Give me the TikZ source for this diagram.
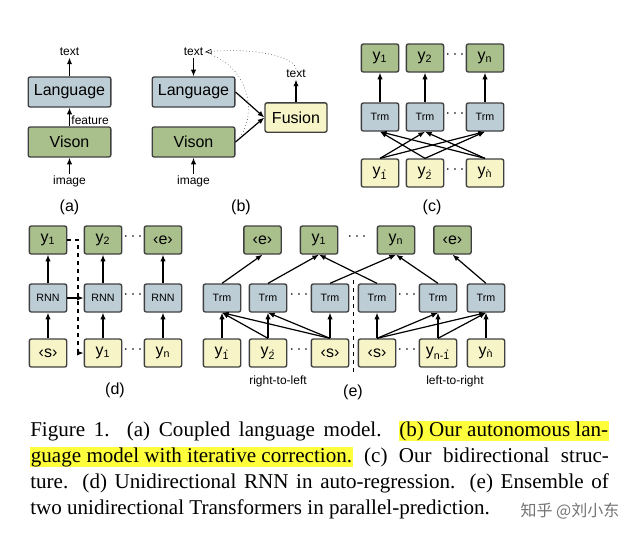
\documentclass[tikz,border=0pt]{standalone}
\usepackage{fontspec}
\setmainfont{Liberation Serif}
\newfontfamily\boxfont{Liberation Sans}
\newfontfamily\cjk{Noto Sans CJK SC}
\usetikzlibrary{arrows.meta}
\definecolor{vert}{RGB}{169,191,140}
\definecolor{gris}{RGB}{189,205,214}
\definecolor{jaune}{RGB}{247,245,200}
\definecolor{surligne}{RGB}{255,255,60}
\newcommand{\yp}[1]{y\textsubscript{#1\char"0300}}
\newcommand{\cro}[1]{\char"2039#1\char"203A}
\setlength{\fboxsep}{0.5pt}
\begin{document}
\begin{tikzpicture}[x=0.75pt,y=-0.75pt]

% définition des styles
\tikzstyle{boite}=[draw=black!75,line width=1pt,rounded corners=1.5pt,font=\boxfont,inner sep=0pt]
\tikzstyle{grand}=[boite,minimum width=62pt,minimum height=22.5pt,font=\boxfont\large]
\tikzstyle{petit}=[boite,minimum width=28pt,minimum height=21pt,font=\boxfont\large]
\tikzstyle{trm}=[petit,fill=gris,font=\boxfont\footnotesize]
\tikzstyle{fleche}=[-{Latex[length=5pt,width=4pt]},line width=0.9pt]
\tikzstyle{pointille}=[-{Latex[length=5pt,width=4pt,open]},dotted,thin]
\tikzstyle{etiq}=[font=\boxfont\small,inner sep=1pt]
\tikzstyle{points}=[font=\boxfont\bfseries\large]
\tikzstyle{legende}=[font=\boxfont\large]
\tikzstyle{ligne}=[anchor=west,inner sep=0pt,font=\fontsize{15.8}{18}\selectfont,text width=434pt,align=justify]

\useasboundingbox (0,0) rectangle (642,537);

% (a)
\node[grand,fill=gris] (langA) at (69.5,92) {Language};
\node[grand,fill=vert] (visA) at (69.5,142) {Vison};
\node[etiq] (texteA) at (69.5,52) {text};
\node[etiq] (imageA) at (69.5,181) {image};
\node[legende] (a) at (69.5,207) {(a)};
\draw[fleche] (langA) -- (texteA);
\draw[fleche] (visA) -- node[etiq,right,pos=0.35]{feature} (langA);
\draw[fleche] (imageA) -- (visA);

% (b)
\node[grand,fill=gris] (langB) at (193.5,92) {Language};
\node[grand,fill=vert] (visB) at (193.5,142) {Vison};
\node[boite,fill=jaune,minimum width=46.5pt,minimum height=22pt,font=\boxfont\large] (fusion) at (296,117.5) {Fusion};
\node[etiq] (texteB) at (193.5,52) {text};
\node[etiq] (texteF) at (296,74) {text};
\node[etiq] (imageB) at (193.5,181) {image};
\node[legende] (b) at (241,207) {(b)};
\draw[fleche] (texteB) -- (langB);
\draw[fleche] (imageB) -- (visB);
\draw[fleche] (langB.east) -- (fusion.west);
\draw[fleche] (visB.east) -- (fusion.west);
\draw[fleche] (fusion) -- (texteF);
\draw[pointille] (texteF.north) .. controls (293,55) and (250,48) .. (texteB.east);
\draw[dotted,thin] (visB.east) .. controls (255,125) and (258,70) .. (texteB.east);

% (c)
\foreach \x/\i/\t in {380/1/1,425/2/2,485/3/n}{
  \node[petit,fill=vert] (yc\i) at (\x,58) {y\textsubscript{\t}};
  \node[trm] (trmc\i) at (\x,117) {Trm};
  \node[petit,fill=jaune] (ypc\i) at (\x,173) {\yp{\t}};
  \draw[fleche] (trmc\i) -- (yc\i);
}
\foreach \r in {58,117,173}{\node[points] at (455,\r-3) {$\cdots$};}
\foreach \a/\b in {1/2,1/3,2/1,2/3,3/1,3/2}{
  \draw[fleche] (ypc\a.north) -- (trmc\b.south);
}
\node[legende] (c) at (432,207) {(c)};

% (d)
\foreach \x/\i/\t/\b in {48/1/y\textsubscript{1}/\cro{s},103/2/y\textsubscript{2}/y\textsubscript{1},163/3/\cro{e}/y\textsubscript{n}}{
  \node[petit,fill=vert] (yd\i) at (\x,240) {\t};
  \node[trm] (rnn\i) at (\x,298) {RNN};
  \node[petit,fill=jaune] (xd\i) at (\x,353) {\b};
  \draw[fleche] (rnn\i) -- (yd\i);
  \draw[fleche] (xd\i) -- (rnn\i);
}
\foreach \r in {240,298,353}{\node[points] at (133,\r-3) {$\cdots$};}
\draw[fleche] (rnn1) -- (rnn2);
\draw[fleche,dashed] (yd1.east) -| (78,353) -- (xd2.west);
\node[legende] (d) at (115,390) {(d)};

% (e)
\foreach \x/\i/\t in {262.5/1/\cro{e},319/2/y\textsubscript{1},396/3/y\textsubscript{n},452.5/4/\cro{e}}{
  \node[petit,fill=vert] (ye\i) at (\x,240) {\t};
}
\foreach \x/\i/\b in {222/1/\yp{1},268/2/\yp{2},330/3/\cro{s},377/4/\cro{s},438/5/\yp{n-1},486/6/\yp{n}}{
  \node[trm] (trme\i) at (\x,298) {Trm};
  \node[petit,fill=jaune] (xe\i) at (\x,353) {\b};
}
\foreach \x/\r in {357/240,299/298,299/353,407/298,407/353}{\node[points] at (\x,\r-3) {$\cdots$};}
\draw[fleche] (trme1.north) -- (ye1.south);
\draw[fleche] (trme2.north) -- (ye2.south);
\draw[fleche] (trme3.north) -- (ye3.south);
\draw[fleche] (trme4.north) -- (ye2.south);
\draw[fleche] (trme5.north) -- (ye3.south);
\draw[fleche] (trme6.north) -- (ye4.south);
\foreach \a/\b in {1/1,2/1,2/2,3/1,3/2,3/3,4/4,4/5,4/6,5/5,5/6,6/6}{
  \draw[fleche] (xe\a.north) -- (trme\b.south);
}
\draw[dashed,thin] (353,280) -- (353,374);
\node[etiq] (rtl) at (278,381) {right-to-left};
\node[etiq] (ltr) at (455,381) {left-to-right};
\node[legende] (e) at (353,392) {(e)};

% légende
\node[ligne] (l1) at (30,431) {{\parfillskip=0pt Figure 1. (a) Coupled language model. \colorbox{surligne}{(b) Our autonomous lan-}\par}};
\node[ligne] (l2) at (30,457) {{\parfillskip=0pt \colorbox{surligne}{guage model with iterative correction.} (c) Our bidirectional struc-\par}};
\node[ligne] (l3) at (30,483) {{\parfillskip=0pt ture. (d) Unidirectional RNN in auto-regression. (e) Ensemble of\par}};
\node[ligne] (l4) at (30,509) {two unidirectional Transformers in parallel-prediction.};
\node[font=\cjk\large,text=black!55] (filigrane) at (570,511) {知乎 @刘小东};

\end{tikzpicture}
\end{document}
